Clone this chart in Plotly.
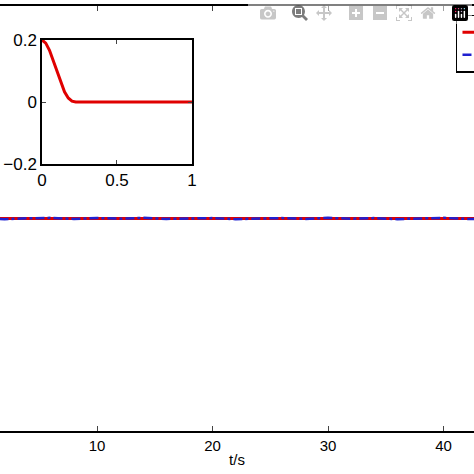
import plotly.graph_objects as go

t_main = [0, 2, 4, 6, 8, 10, 12, 14, 16, 18, 20, 22, 24, 26, 28, 30, 32, 34, 36, 38, 40, 42, 44, 46, 48, 50]
x1_main = [0.0] * 26
x2_main = [0.002, -0.003, 0.001, 0.003, -0.002, 0.002, -0.001, 0.003, -0.002, 0.001, 0.002, -0.003,
           0.001, 0.002, -0.002, 0.003, -0.001, 0.002, -0.003, 0.001, 0.003, -0.002, 0.001, 0.002, -0.001, 0.0]
t_inset = [0, 0.025, 0.05, 0.075, 0.1, 0.125, 0.15, 0.175, 0.2, 0.225, 0.25, 0.5, 1.0]
y_inset = [0.2, 0.19, 0.167, 0.133, 0.097, 0.062, 0.033, 0.013, 0.003, 0.0, 0.0, 0.0, 0.0]

fig = go.Figure()
fig.add_trace(go.Scatter(x=t_main, y=x1_main, mode="lines", name="x1",
                         line=dict(color="#e00000", width=3)))
fig.add_trace(go.Scatter(x=t_main, y=x2_main, mode="lines", name="x2",
                         line=dict(color="#2020d0", width=2.5, dash="dashdot")))
fig.add_trace(go.Scatter(x=t_inset, y=y_inset, mode="lines", showlegend=False,
                         line=dict(color="#e00000", width=3), xaxis="x2", yaxis="y2"))

font = dict(family="Liberation Sans, Arial", size=15, color="black")
ifont = dict(family="Liberation Sans, Arial", size=17, color="black")
fig.update_layout(
    width=474, height=474, paper_bgcolor="white", plot_bgcolor="white",
    margin=dict(l=0, r=0, t=6, b=43, autoexpand=False),
    font=font,
    xaxis=dict(range=[1.6, 42.64], tickvals=[10, 20, 30, 40], ticks="inside", ticklen=5,
               showline=True, linecolor="black", linewidth=1.5, mirror="ticks", showgrid=False,
               zeroline=False, title=dict(text="t/s", standoff=2, font=font)),
    yaxis=dict(range=[-1, 1], showticklabels=False, showgrid=False, zeroline=False, ticks=""),
    xaxis2=dict(domain=[0.0886, 0.405], anchor="y2", range=[0, 1], tickvals=[0, 0.5, 1],
                ticktext=["0", "0.5", "1"], ticks="inside", ticklen=4, showline=True, tickfont=ifont,
                linecolor="black", linewidth=1.5, mirror="ticks", showgrid=False, zeroline=False),
    yaxis2=dict(domain=[0.628, 0.92], anchor="x2", range=[-0.2, 0.2], tickvals=[-0.2, 0, 0.2],
                ticktext=["\u22120.2", "0", "0.2"], ticks="inside", ticklen=4, showline=True, tickfont=ifont,
                linecolor="black", linewidth=1.5, mirror="ticks", showgrid=False, zeroline=False),
    legend=dict(x=0.962, y=0.98, xanchor="left", yanchor="top", bgcolor="white",
                bordercolor="black", borderwidth=1.5, font=font),
)
fig.write_html("out.html", post_script="document.body.style.margin='0';document.body.style.overflow='hidden';")
